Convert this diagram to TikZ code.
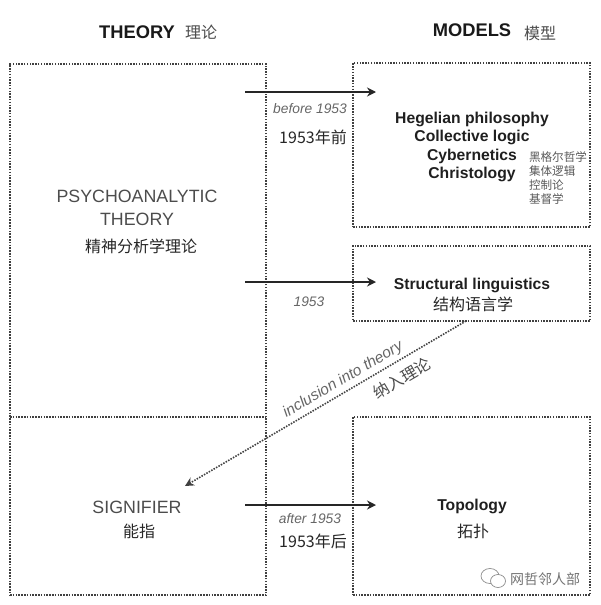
\documentclass[tikz,border=0pt]{standalone}
\usepackage{fontspec}
\setmainfont{Liberation Sans}
\newfontfamily\cjk{Noto Sans CJK SC}
\usetikzlibrary{arrows.meta}
\begin{document}
\begin{tikzpicture}[
		x=1pt,
		y=-1pt,
		>={Stealth[length=9pt,width=9pt]},
		dotted line/.style={draw=black!75,line width=1.6pt,dash pattern=on 1.5pt off 1.3pt},
		dotbox/.style={dotted line,inner sep=0pt,outer sep=0pt,anchor=north west},
		flow/.style={->,line width=1.6pt,black!85},
		title/.style={font=\fontsize{18.3}{20}\selectfont\bfseries,text=black!90},
		concept/.style={font=\fontsize{17.8}{23}\selectfont,text=black!70,align=center},
		model/.style={font=\fontsize{15.7}{18.5}\selectfont\bfseries,text=black!88,align=center},
		date/.style={font=\fontsize{13.8}{14}\selectfont\itshape,text=black!60},
		zh/.style={font=\cjk\fontsize{16}{18}\selectfont,text=black!85},
		zhsmall/.style={font=\cjk\fontsize{11.6}{13.7}\selectfont,text=black!65,align=left}
	]
		\useasboundingbox (0,0) rectangle (600,605);

		% Headings
		\node[title] (theoryhead) at (137,32) {THEORY};
		\node[zh,text=black!70] (theoryzh) at (201,32) {理论};
		\node[title] (modelshead) at (472,30) {MODELS};
		\node[zh,text=black!70] (modelszh) at (540,33) {模型};

		% Boxes
		\node[dotbox,minimum width=256pt,minimum height=531pt] (theorybox) at (10,64) {};
		\node[dotbox,minimum width=237pt,minimum height=164pt] (earlybox) at (353,63) {};
		\node[dotbox,minimum width=237pt,minimum height=75pt] (lingbox) at (353,246) {};
		\node[dotbox,minimum width=237pt,minimum height=178pt] (topobox) at (353,417) {};
		\coordinate (splitl) at (10,417);
		\coordinate (splitr) at (266,417);
		\draw[dotted line] (splitl) -- (splitr);

		% Left side
		\node[concept] (psycho) at (137,208) {PSYCHOANALYTIC\\THEORY};
		\node[zh] (psychozh) at (141,246) {精神分析学理论};
		\node[concept] (signifier) at (137,507) {SIGNIFIER};
		\node[zh] (signifierzh) at (139,531) {能指};

		% Right side
		\node[model] (early) at (472,147) {Hegelian philosophy\\Collective logic\\Cybernetics\\Christology};
		\node[zhsmall] (earlyzh) at (558,178) {黑格尔哲学\\集体逻辑\\控制论\\基督学};
		\node[model] (ling) at (472,285) {Structural linguistics};
		\node[zh] (lingzh) at (473,304) {结构语言学};
		\node[model] (topo) at (472,506) {Topology};
		\node[zh] (topozh) at (473,531) {拓扑};

		% Arrows
		\coordinate (a1) at (245,92);
		\coordinate (b1) at (376,92);
		\coordinate (a2) at (245,282);
		\coordinate (b2) at (376,282);
		\coordinate (a3) at (245,505);
		\coordinate (b3) at (376,505);
		\coordinate (incl) at (466,321);
		\coordinate (inclend) at (185,486);
		\draw[flow] (a1) -- (b1);
		\draw[flow] (a2) -- (b2);
		\draw[flow] (a3) -- (b3);
		\draw[->,dotted line] (incl) -- (inclend);

		% Dates
		\node[date] (before) at (310,109) {before 1953};
		\node[zh] (beforezh) at (313,137) {1953年前};
		\node[date] (during) at (309,302) {1953};
		\node[date] (after) at (310,519) {after 1953};
		\node[zh] (afterzh) at (313,541) {1953年后};

		% Inclusion labels
		\node[date,font=\fontsize{15.4}{16}\selectfont\itshape,rotate=30.4] (incllabel) at (343,380) {inclusion into theory};
		\node[zh,rotate=30.4,text=black!70] (incllabelzh) at (402,378) {纳入理论};

		% Watermark
		\node[zh,text=black!55,font=\cjk\fontsize{14}{16}\selectfont] (mark) at (545,579) {网哲邻人部};
		\draw[black!45,line width=.7pt,fill=white] (490,576) ellipse (9pt and 7.5pt);
		\draw[black!45,line width=.7pt,fill=white] (498,581) ellipse (7.5pt and 6.5pt);
\end{tikzpicture}
\end{document}
